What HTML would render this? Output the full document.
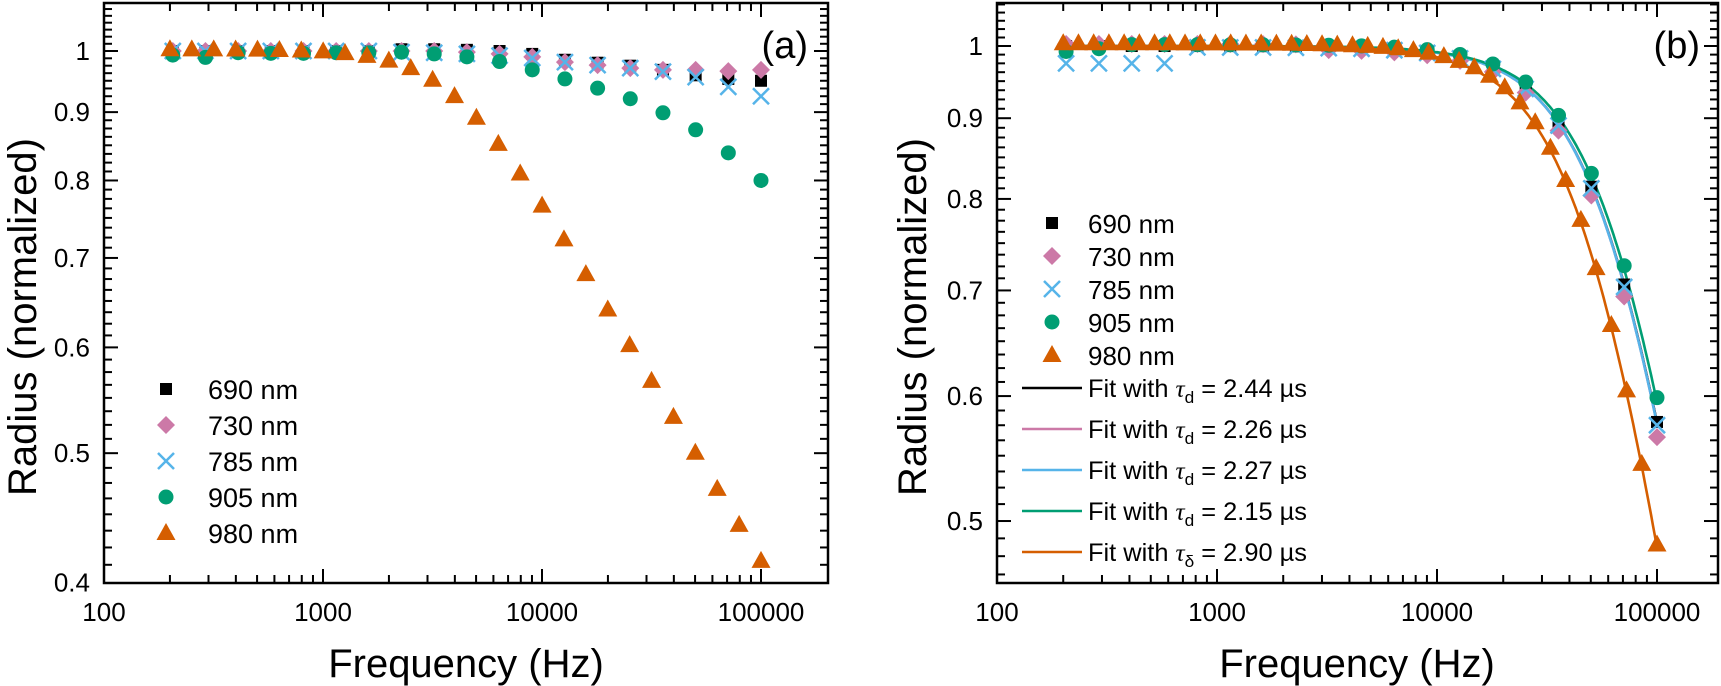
<!DOCTYPE html>
<html><head><meta charset="utf-8"><style>
html,body{margin:0;padding:0;background:#fff;}
svg{display:block;font-family:"Liberation Sans",Arial,sans-serif;}
</style></head><body>
<svg id="s" width="1721" height="686" viewBox="0 0 1721 686" xmlns="http://www.w3.org/2000/svg">
<rect width="1721" height="686" fill="#fff"/>
<g id="g"></g>
<text x="466" y="677" font-size="40" text-anchor="middle">Frequency (Hz)</text>
<text x="1357" y="677" font-size="40" text-anchor="middle">Frequency (Hz)</text>
<text transform="translate(36,317) rotate(-90)" font-size="40" text-anchor="middle">Radius (normalized)</text>
<text transform="translate(926,317) rotate(-90)" font-size="40" text-anchor="middle">Radius (normalized)</text>
<text x="808" y="58" font-size="38" text-anchor="end">(a)</text>
<text x="1700" y="58" font-size="38" text-anchor="end">(b)</text>
</svg>
<script>
(function(){
var NS="http://www.w3.org/2000/svg",G=document.getElementById('g');
function el(t,a,txt){var e=document.createElementNS(NS,t);for(var k in a)e.setAttribute(k,a[k]);if(txt!=null)e.textContent=txt;G.appendChild(e);return e;}
var L=Math.log10;
var P={a:{x0:104,x1:828,y0:3,y1:583,dx:219,y1v:51,k:1336,ymin:0.4,ymax:1.086,ylab:[0.4,0.5,0.6,0.7,0.8,0.9,1]},
       b:{x0:997,x1:1718,y0:3,y1:583,dx:220,y1v:46,k:1578,ymin:0.457,ymax:1.065,ylab:[0.5,0.6,0.7,0.8,0.9,1]}};
function X(p,f){return p.x0+p.dx*(L(f)-2);}
function Y(p,r){return p.y1v-p.k*L(r);}
var C={k:"#000",p:"#cc79a7",b:"#56b4e9",g:"#009e73",o:"#d55e00"};
function axes(p){
  el('rect',{x:p.x0,y:p.y0,width:p.x1-p.x0,height:p.y1-p.y0,fill:'none',stroke:'#000','stroke-width':2.5});
  for(var d=2;d<=5;d++){for(var m=1;m<10;m++){var f=m*Math.pow(10,d);var x=X(p,f);if(x>p.x1-2)continue;if(d==2&&m==1)continue;
    var len=m==1?14:8;
    el('line',{x1:x,y1:p.y1,x2:x,y2:p.y1-len,stroke:'#000','stroke-width':2});
    el('line',{x1:x,y1:p.y0,x2:x,y2:p.y0+len,stroke:'#000','stroke-width':2});}}
  [100,1000,10000,100000].forEach(function(f){el('text',{x:X(p,f),y:621,'font-size':26,'text-anchor':'middle'},String(f));});
  for(var i=32;i<=88;i++){var v=i*0.0125;if(v<p.ymin-1e-9||v>p.ymax)continue;var y=Y(p,v);if(y>p.y1-1||y<p.y0+1)continue;
    var maj=Math.abs(v*10-Math.round(v*10))<1e-6;var len=maj?14:8;
    el('line',{x1:p.x0,y1:y,x2:p.x0+len,y2:y,stroke:'#000','stroke-width':2});
    el('line',{x1:p.x1,y1:y,x2:p.x1-len,y2:y,stroke:'#000','stroke-width':2});}
  p.ylab.forEach(function(v){el('text',{x:p.x0-14,y:Y(p,v)+9,'font-size':26,'text-anchor':'end'},String(v));});
}
function mk(type,x,y){
  if(type=='k')el('rect',{x:x-6,y:y-6,width:12,height:12,fill:C.k});
  else if(type=='p')el('polygon',{points:(x)+','+(y-9)+' '+(x+9)+','+y+' '+x+','+(y+9)+' '+(x-9)+','+y,fill:C.p});
  else if(type=='b'){el('path',{d:'M'+(x-8)+' '+(y-8)+'L'+(x+8)+' '+(y+8)+'M'+(x+8)+' '+(y-8)+'L'+(x-8)+' '+(y+8),stroke:C.b,'stroke-width':2.5,fill:'none'});}
  else if(type=='g')el('circle',{cx:x,cy:y,r:7.5,fill:C.g});
  else if(type=='o')el('polygon',{points:(x)+','+(y-10)+' '+(x+9.5)+','+(y+7)+' '+(x-9.5)+','+(y+7),fill:C.o});
}
axes(P.a);axes(P.b);
var F=[];for(var i=0;i<19;i++)F.push(100000/Math.pow(1.41,18-i));
var A={
k:[1,1,1,1,1,1,1,1.003,1.003,1.002,1.0,0.995,0.985,0.98,0.975,0.968,0.959,0.953,0.95],
p:[1,1,1,1,1,1,1,1,1,0.998,0.995,0.99,0.981,0.976,0.971,0.968,0.968,0.966,0.968],
b:[1,1,1,1,1,1,1,0.998,0.997,0.995,0.992,0.988,0.981,0.976,0.971,0.965,0.956,0.94,0.925],
g:[0.993,0.989,0.997,0.996,0.996,0.997,0.997,0.998,0.995,0.99,0.982,0.968,0.953,0.938,0.921,0.899,0.873,0.839,0.80]};
['k','p','b','g'].forEach(function(t){F.forEach(function(f,i){mk(t,X(P.a,f),Y(P.a,A[t][i]));});});
for(var k=0;k<28;k++){var f=200*Math.pow(10,k*2.699/27);var r=Math.min(1.003,1.003*Math.pow(1+Math.pow(f/3817,2.5),-0.108));mk('o',X(P.a,f),Y(P.a,r));}
var la=[['k','690 nm'],['p','730 nm'],['b','785 nm'],['g','905 nm'],['o','980 nm']];
la.forEach(function(r,i){var y=389+36*i;mk(r[0],166,y);el('text',{x:208,y:y+10,'font-size':27},r[1]);});
function fit(f,fc){return 1/Math.sqrt(1+Math.pow(f/fc,2));}
var FC={k:71000,p:70500,b:70500,g:74000,o:54900};
['k','p','b','g','o'].forEach(function(t){var d='';for(var j=0;j<=300;j++){var f=200*Math.pow(10,j*2.699/300);d+=(j?'L':'M')+X(P.b,f).toFixed(1)+' '+Y(P.b,fit(f,FC[t])).toFixed(1);}
  el('path',{d:d,fill:'none',stroke:C[t],'stroke-width':t=='k'?1.8:2.6});});
var pk=F.map(function(f,i){return fit(f,71000)*(i<9?1.0:0.998);});
var pp=F.map(function(f,i){return fit(f,69000)*(i<8?1.003:0.995);});
var pb=F.map(function(f,i){return i<4?0.975:fit(f,70500)*0.998;});
var pg=F.map(function(f,i){return i==0?0.992:i==1?0.996:fit(f,74500)*1.002;});
F.forEach(function(f,i){mk('k',X(P.b,f),Y(P.b,pk[i]));});
F.forEach(function(f,i){mk('p',X(P.b,f),Y(P.b,pp[i]));});
F.forEach(function(f,i){mk('b',X(P.b,f),Y(P.b,pb[i]));});
F.forEach(function(f,i){mk('g',X(P.b,f),Y(P.b,pg[i]));});
for(var k=0;k<40;k++){var f=200*Math.pow(10,k*2.699/39);mk('o',X(P.b,f),Y(P.b,fit(f,54900)*1.004));}
la.forEach(function(r,i){var y=223+33*i;mk(r[0],1052,y);el('text',{x:1088,y:y+10,'font-size':26},r[1]);});
var fl=[['k','d','2.44'],['p','d','2.26'],['b','d','2.27'],['g','d','2.15'],['o','δ','2.90']];
fl.forEach(function(r,i){var y=388+41*i;
  el('line',{x1:1022,y1:y,x2:1082,y2:y,stroke:C[r[0]],'stroke-width':2.6});
  var t=el('text',{x:1088,y:y+9,'font-size':25,textLength:219,lengthAdjust:'spacingAndGlyphs'});
  var s1=document.createElementNS(NS,'tspan');s1.textContent='Fit with ';t.appendChild(s1);
  var s2=document.createElementNS(NS,'tspan');s2.setAttribute('font-family','Liberation Serif, serif');s2.setAttribute('font-style','italic');s2.textContent='τ';t.appendChild(s2);
  var s3=document.createElementNS(NS,'tspan');s3.setAttribute('font-size','17');s3.setAttribute('dy','6');s3.textContent=r[1];t.appendChild(s3);
  var s4=document.createElementNS(NS,'tspan');s4.setAttribute('dy','-6');s4.textContent=' = '+r[2]+' µs';t.appendChild(s4);
});
})();
</script>
</body></html>
